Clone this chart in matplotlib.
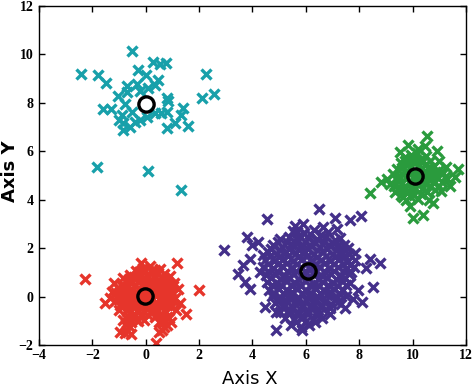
import numpy as np
import matplotlib.pyplot as plt

# точки кластеров (x, y), оценены по картинке
cyan_pts = [
    (-0.50, 10.14), (-2.44, 9.18), (-1.78, 9.15), (-1.49, 8.80), (0.26, 9.70),
    (0.53, 9.59), (0.76, 9.66), (-0.28, 9.36), (0.00, 9.15), (2.24, 9.18),
    (2.57, 8.36), (2.09, 8.19), (0.47, 8.94), (0.34, 8.74), (-0.34, 8.78),
    (-0.72, 8.71), (-0.72, 8.46), (-1.03, 8.28), (-0.78, 7.95), (0.78, 8.21),
    (0.84, 8.07), (-1.59, 7.74), (-1.31, 7.74), (-0.90, 7.50), (-0.53, 7.63),
    (-0.22, 7.29), (-0.84, 7.15), (-0.59, 7.01), (-0.84, 6.88), (-0.40, 7.20),
    (0.03, 7.43), (0.34, 7.57), (0.78, 7.63), (0.56, 7.60), (1.40, 7.77),
    (1.34, 7.50), (1.09, 7.15), (1.59, 7.04), (0.78, 6.95), (-1.84, 5.36),
    (0.09, 5.20), (1.34, 4.40), (-0.20, 8.50), (0.10, 8.60), (-1.00, 7.30),
]

red_pts = [
    (-2.28, 0.71), (1.18, 1.39), (2.00, 0.29), (-0.18, 1.39), (-1.53, -0.26),
    (1.51, -0.73), (0.40, -1.92), (-0.72, -1.36), (0.66, -1.05), (-0.78, -1.52),
    (0.50, -1.46), (-0.10, 1.20), (0.15, 1.25), (0.35, 1.10), (0.55, 1.15),
    (0.70, 0.95), (-0.35, 1.05), (-0.60, 0.90), (-0.85, 0.75), (-0.45, 0.80),
    (-0.20, 0.85), (0.05, 0.90), (0.30, 0.85), (0.50, 0.70), (0.80, 0.65),
    (1.05, 0.55), (1.20, 0.30), (1.00, 0.20), (0.85, 0.40), (0.60, 0.45),
    (0.40, 0.55), (0.20, 0.60), (-0.05, 0.55), (-0.30, 0.60), (-0.55, 0.55),
    (-0.80, 0.45), (-1.05, 0.35), (-1.25, 0.20), (-1.00, 0.10), (-0.75, 0.20),
    (-0.50, 0.30), (-0.25, 0.35), (0.00, 0.30), (0.25, 0.30), (0.50, 0.25),
    (0.75, 0.15), (1.10, -0.05), (1.30, -0.25), (0.90, -0.15), (0.65, -0.05),
    (0.40, 0.05), (0.15, 0.10), (-0.15, 0.05), (-0.40, 0.10), (-0.65, -0.05),
    (-0.90, -0.10), (-1.15, -0.20), (-1.35, -0.05), (-0.85, -0.35), (-0.60, -0.25),
    (-0.35, -0.20), (-0.10, -0.15), (0.15, -0.20), (0.40, -0.25), (0.65, -0.35),
    (0.95, -0.45), (1.15, -0.55), (-1.00, -0.55), (-0.70, -0.55), (-0.45, -0.45),
    (-0.20, -0.45), (0.05, -0.50), (0.30, -0.55), (0.55, -0.70), (0.80, -0.85),
    (0.95, -1.05), (0.70, -1.25), (0.50, -1.05), (0.35, -0.85), (0.10, -0.75),
    (-0.15, -0.70), (-0.40, -0.75), (-0.65, -0.80), (-0.85, -0.95), (-0.55, -1.05),
    (-0.30, -1.00), (-0.05, -0.95), (-0.75, -1.15), (-0.95, -1.45), (-0.55, -1.55),
    (-0.25, 1.00), (0.90, 0.85), (-1.20, 0.55), (0.60, -1.40),
    (-0.12, 1.04), (0.21, 1.06), (0.46, 0.97),
    (-0.62, 0.73), (-0.31, 0.76), (0.02, 0.72), (0.36, 0.77), (0.66, 0.74),
    (-0.94, 0.46), (-0.66, 0.43), (-0.41, 0.47), (-0.11, 0.44), (0.16, 0.46),
    (0.44, 0.43), (0.76, 0.47), (1.01, 0.44),
    (-1.11, 0.16), (-0.86, 0.13), (-0.56, 0.17), (-0.31, 0.14), (0.06, 0.16),
    (0.31, 0.13), (0.61, 0.17), (0.91, 0.14),
    (-1.01, -0.11), (-0.76, -0.08), (-0.51, -0.12), (-0.26, -0.09), (0.01, -0.11),
    (0.26, -0.08), (0.51, -0.12), (0.81, -0.09), (1.01, -0.13),
    (-0.96, -0.36), (-0.71, -0.33), (-0.46, -0.37), (-0.21, -0.34), (0.04, -0.36),
    (0.31, -0.33), (0.56, -0.37), (0.81, -0.34),
    (-0.56, -0.61), (-0.31, -0.58), (-0.06, -0.62), (0.21, -0.59), (0.46, -0.61),
    (0.71, -0.58),
    (-0.71, -0.91), (-0.46, -0.88), (0.64, -0.92), (0.86, -0.89),
    (-0.61, -1.21), (0.81, -1.19),
]

purple_pts = [
    # выбросы
    (2.93, 1.92), (4.53, 3.19), (6.49, 3.61), (7.11, 3.23), (7.65, 3.16),
    (8.06, 3.33), (3.78, 2.47), (4.21, 2.26), (3.97, 2.12), (3.90, 1.57),
    (3.65, 1.30), (3.46, 0.95), (3.72, 0.61), (3.90, 0.33), (4.28, 1.02),
    (4.46, -0.43), (4.90, -0.63), (4.40, 1.71), (4.90, -1.40), (5.84, -1.39),
    (8.40, 1.57), (8.77, 1.37), (8.27, 1.16), (8.52, 0.40), (7.96, 0.26),
    (7.77, -0.08), (8.09, -0.22), (7.21, -0.22), (7.46, -0.49), (6.46, -0.56),
    (6.90, -0.70), (7.27, 2.40), (7.58, 1.99), (7.83, 1.78), (6.65, 2.88),
    (7.15, 2.81), (5.59, 2.92), (5.90, 2.98), (5.65, 2.67),
    # ядро
    (5.52, 2.72), (5.93, 2.64), (6.31, 2.75), (6.82, 2.68),
    (5.02, 2.38), (5.37, 2.46), (5.71, 2.35), (6.07, 2.43), (6.42, 2.37),
    (6.77, 2.45), (7.08, 2.33),
    (4.76, 2.12), (5.12, 2.05), (5.44, 2.16), (5.81, 2.08), (6.16, 2.14),
    (6.52, 2.03), (6.86, 2.12), (7.21, 2.07), (7.44, 2.15),
    (4.57, 1.83), (4.92, 1.76), (5.26, 1.85), (5.62, 1.78), (5.96, 1.84),
    (6.31, 1.75), (6.66, 1.86), (7.02, 1.77), (7.36, 1.82), (7.62, 1.74),
    (4.47, 1.52), (4.81, 1.46), (5.16, 1.55), (5.51, 1.48), (5.86, 1.54),
    (6.21, 1.45), (6.56, 1.53), (6.91, 1.47), (7.26, 1.56), (7.55, 1.44),
    (7.86, 1.51),
    (4.41, 1.22), (4.76, 1.16), (5.11, 1.25), (5.46, 1.18), (5.81, 1.23),
    (6.16, 1.14), (6.51, 1.24), (6.86, 1.17), (7.21, 1.22), (7.51, 1.15),
    (7.81, 1.23),
    (4.52, 0.88), (4.86, 0.94), (5.21, 0.86), (5.56, 0.93), (5.91, 0.87),
    (6.26, 0.95), (6.61, 0.85), (6.96, 0.92), (7.31, 0.86), (7.61, 0.93),
    (4.56, 0.62), (4.91, 0.55), (5.26, 0.64), (5.61, 0.57), (5.96, 0.63),
    (6.31, 0.54), (6.66, 0.62), (7.01, 0.56), (7.36, 0.64), (7.66, 0.57),
    (4.62, 0.28), (4.96, 0.34), (5.31, 0.26), (5.66, 0.33), (6.01, 0.27),
    (6.36, 0.35), (6.71, 0.25), (7.06, 0.32), (7.41, 0.27),
    (4.72, 0.03), (5.06, -0.04), (5.41, 0.04), (5.76, -0.05), (6.11, 0.02),
    (6.46, -0.03), (6.81, 0.05), (7.16, -0.02), (7.51, 0.04),
    (4.86, -0.28), (5.21, -0.34), (5.56, -0.26), (5.91, -0.33), (6.26, -0.27),
    (6.61, -0.35), (6.96, -0.29), (7.31, -0.31),
    (5.02, -0.62), (5.36, -0.56), (5.71, -0.64), (6.06, -0.57), (6.41, -0.63),
    (5.22, -0.88), (5.56, -0.94), (5.91, -0.86), (6.26, -0.93), (6.62, -0.90),
    (5.46, -1.18), (5.81, -1.24), (6.12, -1.16),
    # промежуточные
    (5.75, 2.55), (6.15, 2.57), (6.55, 2.53),
    (4.95, 2.24), (5.30, 2.27), (5.62, 2.22), (5.97, 2.26), (6.33, 2.23),
    (6.68, 2.27), (7.00, 2.21),
    (4.70, 1.96), (5.05, 1.93), (5.38, 1.97), (5.74, 1.94), (6.08, 1.96),
    (6.43, 1.93), (6.78, 1.97), (7.12, 1.94), (7.40, 1.96),
    (4.65, 1.66), (5.00, 1.63), (5.34, 1.67), (5.70, 1.64), (6.04, 1.66),
    (6.40, 1.63), (6.74, 1.67), (7.10, 1.64), (7.45, 1.66),
    (4.60, 1.36), (4.95, 1.33), (5.30, 1.37), (5.66, 1.34), (6.00, 1.36),
    (6.36, 1.33), (6.72, 1.37), (7.06, 1.34), (7.40, 1.36), (7.70, 1.33),
    (4.60, 1.06), (4.94, 1.03), (5.28, 1.07), (5.64, 1.04), (5.98, 1.06),
    (6.34, 1.03), (6.68, 1.07), (7.04, 1.04), (7.38, 1.06), (7.70, 1.03),
    (4.70, 0.76), (5.04, 0.73), (5.38, 0.77), (5.72, 0.74), (6.08, 0.76),
    (6.44, 0.73), (6.78, 0.77), (7.12, 0.74), (7.46, 0.76),
    (4.75, 0.46), (5.10, 0.43), (5.44, 0.47), (5.80, 0.44), (6.14, 0.46),
    (6.50, 0.43), (6.84, 0.47), (7.20, 0.44), (7.52, 0.46),
    (4.80, 0.16), (5.14, 0.13), (5.48, 0.17), (5.84, 0.14), (6.18, 0.16),
    (6.54, 0.13), (6.90, 0.17), (7.26, 0.14),
    (4.95, -0.14), (5.30, -0.17), (5.66, -0.13), (6.00, -0.16), (6.36, -0.14),
    (6.72, -0.17), (7.08, -0.13),
    (5.14, -0.44), (5.50, -0.47), (5.84, -0.43), (6.20, -0.46), (6.56, -0.44),
    (6.92, -0.47),
    (5.38, -0.74), (5.72, -0.77), (6.08, -0.73), (6.44, -0.76),
    (5.62, -1.04), (5.96, -1.07), (6.34, -1.03),
]

green_pts = [
    (8.42, 4.29), (8.83, 4.74), (9.05, 4.85), (9.30, 4.55), (9.33, 4.33),
    (9.55, 4.20), (9.77, 3.98), (9.90, 4.15), (10.02, 3.23), (10.40, 3.36),
    (10.78, 3.86), (10.54, 6.62), (10.48, 6.22), (10.92, 6.03), (11.72, 5.28),
    (11.58, 4.95), (11.40, 4.55), (9.52, 5.98), (9.83, 6.26), (9.70, 5.75),
    (9.95, 5.85), (10.15, 5.95), (10.30, 5.70), (10.05, 5.55), (9.80, 5.45),
    (9.55, 5.50), (9.40, 5.25), (9.25, 5.05), (9.50, 5.00), (9.70, 5.15),
    (9.90, 5.30), (10.20, 5.35), (10.45, 5.45), (10.65, 5.60), (10.80, 5.40),
    (10.95, 5.20), (11.15, 5.10), (11.30, 4.85), (11.10, 4.75), (10.90, 4.95),
    (10.70, 5.10), (10.50, 5.15), (10.30, 5.05), (10.10, 4.85), (9.85, 4.75),
    (9.60, 4.70), (9.40, 4.80), (9.70, 4.45), (9.95, 4.50), (10.20, 4.60),
    (10.45, 4.70), (10.65, 4.55), (10.85, 4.40), (11.05, 4.35), (10.55, 4.30),
    (10.30, 4.25), (10.05, 4.20), (11.00, 5.60), (11.25, 5.35), (10.20, 6.10),
    (10.00, 4.95), (9.15, 4.65), (10.60, 4.00), (9.65, 4.10),
    (9.60, 5.30), (9.85, 5.10), (10.10, 5.20), (10.35, 5.30), (10.60, 5.35),
    (10.85, 5.15), (9.50, 4.90), (9.75, 4.90), (10.25, 4.85), (10.55, 4.90),
    (10.80, 4.70), (11.00, 4.55), (9.55, 4.45), (9.85, 4.35), (10.10, 4.45),
    (10.40, 4.50), (10.70, 4.85), (10.00, 5.70), (10.35, 5.55), (9.70, 5.60),
    (11.20, 4.95), (10.50, 5.80), (10.20, 4.05), (9.90, 3.75),
]

# центры кластеров
cent_x = [0.0, -0.03, 6.08, 10.1]
cent_y = [7.97, 0.02, 1.05, 5.0]

colors = ['#18a0aa', '#e6352b', '#44308a', '#2a9b3d']
x_ticks = np.arange(-4, 13, 2)
y_ticks = np.arange(-2, 13, 2)

fig = plt.figure(figsize=(4.74, 3.87), dpi=100)
ax = fig.add_axes([0.0823, 0.1085, 0.9007, 0.876])

for pts, c in zip([cyan_pts, red_pts, purple_pts, green_pts], colors):
    p = np.array(pts)
    ax.plot(p[:, 0], p[:, 1], 'x', color=c, markersize=6.5, mew=2.4, linestyle='none')

ax.plot(cent_x, cent_y, 'o', mfc='none', mec='black', markersize=11, mew=2.4, linestyle='none')

ax.set_xlim(-4, 12)
ax.set_ylim(-2, 12)
ax.set_xticks(x_ticks)
ax.set_yticks(y_ticks)
ax.tick_params(direction='in', top=True, right=True, length=4, width=1, pad=3)
ax.tick_params(axis='y', pad=4)
for lbl in ax.get_xticklabels() + ax.get_yticklabels():
    lbl.set_fontfamily('Liberation Serif')
    lbl.set_fontweight('bold')
    lbl.set_fontsize(10)
ax.set_xlabel('Axis X', fontsize=13, family='DejaVu Sans')
ax.set_ylabel('Axis Y', fontsize=13, family='DejaVu Sans', fontweight='bold')
ax.xaxis.label.set_va('center')
ax.yaxis.label.set_va('center')
ax.xaxis.set_label_coords(0.494, -0.100)
ax.yaxis.set_label_coords(-0.068, 0.513)
for s in ax.spines.values():
    s.set_linewidth(1.0)

fig.savefig('out.png', dpi=100)
